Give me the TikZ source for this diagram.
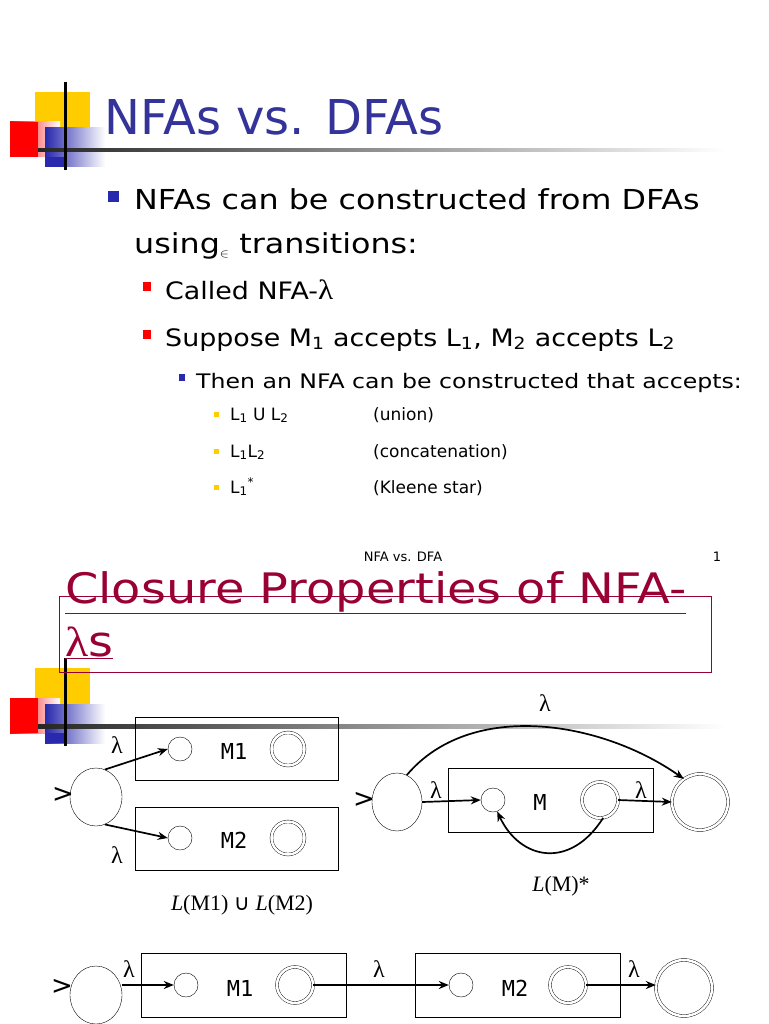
\documentclass[tikz,border=0pt]{standalone}
\usepackage{fontspec}
\setmainfont{DejaVu Sans}
\newfontfamily\mono{DejaVu Sans Mono}
\newfontfamily\serif{Liberation Serif}
\newfontfamily\djv{DejaVu Sans}
\usetikzlibrary{arrows.meta,shapes.geometric}
\definecolor{ttl}{HTML}{333399}
\definecolor{crim}{HTML}{990033}
\definecolor{ylw}{HTML}{FFCC00}
\begin{document}
\begin{tikzpicture}[x=1pt,y=-1pt,
  txt/.style={anchor=base west,inner sep=0pt},
  st/.style={draw,circle,thin,minimum size=24pt,inner sep=0pt},
  acc/.style={draw,circle,thin,double,double distance=2.5pt,minimum size=33pt,inner sep=0pt},
  bigacc/.style={draw,circle,thin,double,double distance=2.5pt,minimum size=56pt,inner sep=0pt},
  startst/.style={draw,ellipse,thin,minimum width=52pt,minimum height=58pt,inner sep=0pt},
  mbox/.style={draw,line width=0.8pt,inner sep=0pt,anchor=north west},
  lam/.style={font=\serif\fontsize{24}{24}\selectfont,inner sep=0pt},
  mlab/.style={font=\mono\fontsize{22}{22}\selectfont,inner sep=0pt},
  tr/.style={-{Stealth[length=10pt,width=8pt]},line width=1.7pt},
  sq/.style={inner sep=0pt,draw=none}]
\useasboundingbox (0,0) rectangle (768,1024);
\fill[white] (0,0) rectangle (768,1024);
% decorations
\foreach \o in {0,576}{
  \fill[ylw] (35,92+\o) rectangle (90,150+\o);
  \shade[left color=red,right color=white] (10,122+\o) rectangle (60,157+\o);
  \shade[left color=ttl!80!blue,right color=white] (45,128+\o) rectangle (105,167+\o);
  \fill[red] (10,122+\o) rectangle (38,157+\o);
  \fill[ttl!80!blue] (45,157+\o) rectangle (65,167+\o);
  \shade[left color=black!85,right color=white] (38,148.5+\o) rectangle (725,152+\o);
  \fill[black] (63.5,82+\o) rectangle (66.5,170+\o);
}
% slide 1
\node[txt,text=ttl,font=\fontsize{48}{48}\selectfont] (title) at (104,135) {NFAs vs. DFAs};
\fill[ttl!80!blue] (108,191) rectangle (119,202);
\node[txt,font=\fontsize{27.5}{28}\selectfont] (l1) at (134,210) {\scalebox{1.155}[1]{NFAs can be constructed from DFAs}};
\node[txt,font=\fontsize{27.5}{28}\selectfont] (l2) at (134,253) {\scalebox{1.155}[1]{using\raisebox{-4pt}{\large$\in$} transitions:}};
\fill[red] (143,282) rectangle (151,291);
\node[txt,font=\fontsize{24}{24}\selectfont] (l3) at (165,299) {\scalebox{1.12}[1]{Called NFA-{\serif\fontsize{28}{28}\selectfont λ}}};
\fill[red] (143,330) rectangle (151,339);
\node[txt,font=\fontsize{24}{24}\selectfont] (l4) at (165,346) {\scalebox{1.12}[1]{Suppose M\textsubscript{1} accepts L\textsubscript{1}, M\textsubscript{2} accepts L\textsubscript{2}}};
\fill[ttl!80!blue] (179,374) rectangle (185,381);
\node[txt,font=\fontsize{20}{20}\selectfont] (l5) at (196,388) {\scalebox{1.18}[1]{Then an NFA can be constructed that accepts:}};
\foreach \y/\a/\b in {420/{L\textsubscript{1} U L\textsubscript{2}}/(union),457/{L\textsubscript{1}L\textsubscript{2}}/(concatenation),493/{L\textsubscript{1}\textsuperscript{*}}/(Kleene star)}{
  \fill[ylw] (214,\y-8) rectangle (219,\y-3);
  \node[txt,font=\fontsize{17}{17}\selectfont] at (230,\y) {\a};
  \node[txt,font=\fontsize{17}{17}\selectfont] at (373,\y) {\b};
}
\node[font=\fontsize{13}{13}\selectfont,inner sep=0pt] (foot) at (403,557) {NFA vs. DFA};
\node[font=\fontsize{13}{13}\selectfont,inner sep=0pt] (pg) at (717,557) {1};
% slide 2 title
\draw[crim,thin] (59,596) rectangle (711,672);
\begin{scope}
\clip (0,569) rectangle (768,1024);
\node[txt,text=crim,font=\fontsize{42}{42}\selectfont] (ct1) at (65,603) {\scalebox{1.14}[1]{\underline{Closure Properties of NFA-}}};
\end{scope}
\node[txt,text=crim,font=\fontsize{42}{42}\selectfont] (ct2) at (65,656) {\scalebox{1.14}[1]{\underline{{\serif λ}s}}};
% union
\node[mbox,minimum width=203pt,minimum height=63pt] (b1) at (135,717) {};
\node[mbox,minimum width=203pt,minimum height=63pt] (b2) at (135,807) {};
\node[startst] (u0) at (96,797) {};
\node[st] (u1) at (180,749) {};
\node[acc] (u1f) at (288,749) {};
\node[mlab] (u1l) at (234,751) {M1};
\node[st] (u2) at (180,838) {};
\node[acc] (u2f) at (288,838) {};
\node[mlab] (u2l) at (234,840) {M2};
\draw[tr] (u0.72) -- (u1.west);
\draw[tr] (u0.-72) -- (u2.west);
\node[lam] at (117,745) {λ};
\node[lam] at (117,855) {λ};
\node[font=\fontsize{26}{26}\selectfont,inner sep=0pt] at (63,795) {>};
\node[font=\serif\fontsize{22}{22}\selectfont,inner sep=0pt] (ul) at (242,905) {\textit{L}(M1) {\djv ∪} \textit{L}(M2)};
% star
\node[mbox,minimum width=205pt,minimum height=64pt] (bm) at (448,768) {};
\node[startst,minimum width=50pt] (s0) at (397,802) {};
\node[st] (s1) at (493,800) {};
\node[acc,minimum size=36pt] (s1f) at (600,800) {};
\node[mlab] at (540,802) {M};
\node[bigacc] (sf) at (700,802) {};
\draw[tr] (s0.east) -- (s1.west);
\draw[tr] (s1f.east) -- (sf.west);
\draw[tr] (s0.70) .. controls (470,700) and (600,720) .. (sf.125);
\draw[tr] (s1f.-80) .. controls (570,870) and (520,860) .. (s1.-70);
\node[lam] at (545,703) {λ};
\node[lam] at (436,790) {λ};
\node[lam] at (641,790) {λ};
\node[font=\fontsize{26}{26}\selectfont,inner sep=0pt] at (364,800) {>};
\node[font=\serif\fontsize{22}{22}\selectfont,inner sep=0pt] (sl) at (561,886) {\textit{L}(M)*};
% concatenation
\node[mbox,minimum width=205pt,minimum height=64pt] (c1b) at (141,953) {};
\node[mbox,minimum width=205pt,minimum height=64pt] (c2b) at (415,953) {};
\node[startst] (c0) at (96,995) {};
\node[st] (c1) at (186,985) {};
\node[acc,minimum size=36pt] (c1f) at (295,985) {};
\node[mlab] at (240,988) {M1};
\node[st] (c2) at (461,985) {};
\node[acc,minimum size=36pt] (c2f) at (568,985) {};
\node[mlab] at (515,988) {M2};
\node[bigacc] (cf) at (684,988) {};
\draw[tr] (c0.east |- c1.west) -- (c1.west);
\draw[tr] (c1f.east) -- (c2.west);
\draw[tr] (c2f.east) -- (c2f.east -| cf.west);
\node[lam] at (129,969) {λ};
\node[lam] at (379,969) {λ};
\node[lam] at (634,969) {λ};
\node[font=\fontsize{26}{26}\selectfont,inner sep=0pt] at (62,987) {>};
\end{tikzpicture}
\end{document}
